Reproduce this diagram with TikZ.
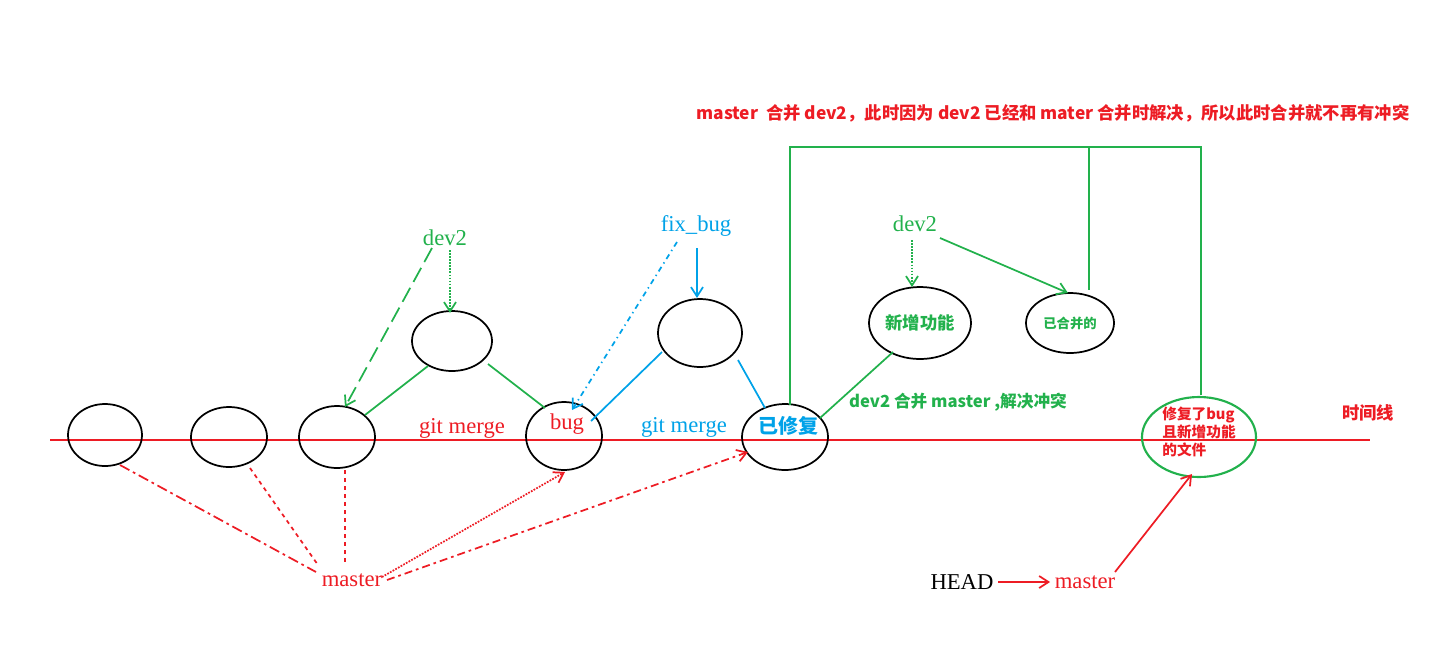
\documentclass[tikz,border=0pt]{standalone}
\usepackage{fontspec}
\setmainfont{Liberation Serif}
\newfontfamily\cjk{Noto Sans CJK SC}
\usetikzlibrary{arrows.meta,shapes.geometric}
\definecolor{gr}{RGB}{34,177,76}
\definecolor{bl}{RGB}{0,162,232}
\definecolor{rd}{RGB}{237,28,36}
\begin{document}
\begin{tikzpicture}[x=0.75pt,y=-0.75pt,
 ar/.style={-{Straight Barb[length=7pt,width=9pt]}},
 lbl/.style={font=\fontsize{17}{19}\selectfont}]
\useasboundingbox (0,0) rectangle (1453,651);
\draw[rd,line width=1.3pt] (50,440) coordinate (t0) -- (1370,440) coordinate (t1);
\tikzset{el/.style args={#1/#2}{draw,line width=1.3pt,minimum width=#1*0.75pt*2,minimum height=#2*0.75pt*2,ellipse,inner sep=0pt}}
\node[el=37/31] (c1) at (105,435) {};
\node[el=38/30] (c2) at (229,437) {};
\node[el=38/31] (c3) at (337,437) {};
\node[el=38/34] (c4) at (564,436) {};
\node[el=43/33] (c5) at (785,437) {};
\node[el=57/40,draw=gr,line width=1.6pt] (c6) at (1199,437) {};
\node[el=40/30] (u1) at (452,341) {};
\node[el=42/34] (u2) at (700,333) {};
\node[el=51/36] (u3) at (920,323) {};
\node[el=44/30] (u4) at (1070,323) {};
\node[text=rd,font=\fontsize{17}{19}\selectfont] at (567,424) {bug};
\node[text=bl,font=\cjk\fontsize{15}{16}\selectfont\bfseries] at (788,426) {已修复};
\node[text=rd,font=\cjk\fontsize{11}{13.5}\selectfont\bfseries,align=left] at (1199,432) {修复了bug\\且新增功能\\的文件};
\node[text=gr,font=\cjk\fontsize{13}{16}\selectfont\bfseries] at (920,323) {新增功能};
\node[text=gr,font=\cjk\fontsize{10}{12}\selectfont\bfseries] at (1070,323) {已合并的};
% branch lines
\draw[gr,line width=1.3pt] (365,415) -- (428,366);
\draw[gr,line width=1.3pt] (488,364) -- (545,408);
\draw[bl,line width=1.3pt] (591,421) -- (662,352);
\draw[bl,line width=1.3pt] (738,360) -- (765,408);
\draw[gr,line width=1.3pt] (820,418) -- (893,352);
\draw[gr,line width=1.5pt] (790,405) -- (790,147) -- (1201,147) -- (1201,395);
\draw[gr,line width=1.5pt] (1089,147) -- (1089,290);
% pointers
\node[text=gr,lbl] (d2a) at (445,238) {dev2};
\draw[gr,line width=1.3pt,dash pattern=on 12pt off 5pt,ar] (432,248) -- (345,407);
\draw[gr,line width=1.3pt,densely dotted,ar] (450,250) -- (450,313);
\node[text=bl,lbl] (fb) at (696,226) {fix\_bug};
\draw[bl,line width=1.3pt,ar] (697,248) -- (697,298);
\draw[bl,line width=1.3pt,dash pattern=on 4pt off 3pt on 1pt off 3pt,ar] (677,242) -- (572,410);
\node[text=gr,lbl] (d2b) at (915,224) {dev2};
\draw[gr,line width=1.3pt,densely dotted,ar] (912,240) -- (912,287);
\draw[gr,line width=1.3pt,ar] (940,238) -- (1068,293);
% labels
\node[text=rd,lbl] at (462,428) {git merge};
\node[text=bl,lbl] at (684,427) {git merge};
\node[text=gr,font=\cjk\fontsize{12.5}{14}\selectfont\bfseries] at (958,402) {dev2 合并 master ,解决冲突};
\node[text=rd,font=\cjk\fontsize{13}{15}\selectfont\bfseries] at (1368,413) {时间线};
\node[text=rd,font=\cjk\fontsize{13}{15}\selectfont\bfseries] at (1053,113) {master\ \ 合并 dev2，此时因为 dev2 已经和 mater 合并时解决，所以此时合并就不再有冲突};
% master
\node[text=rd,lbl] (m1) at (352,580) {master};
\draw[rd,line width=1.3pt,dash pattern=on 8pt off 3pt on 2pt off 3pt] (120,465) -- (316,572);
\draw[rd,line width=1.3pt,dashed] (250,468) -- (318,565);
\draw[rd,line width=1.3pt,dashed] (345,470) -- (345,565);
\draw[rd,line width=1.3pt,densely dotted,ar] (382,577) -- (565,472);
\draw[rd,line width=1.3pt,dash pattern=on 6pt off 3pt on 2pt off 3pt,ar] (387,580) -- (748,452);
\node[font=\fontsize{17}{19}\selectfont] (hd) at (962,582) {HEAD};
\node[text=rd,lbl] (m2) at (1085,582) {master};
\draw[rd,line width=1.3pt,ar] (hd) -- (m2);
\draw[rd,line width=1.3pt,ar] (1115,572) -- (1192,474);
\end{tikzpicture}
\end{document}
